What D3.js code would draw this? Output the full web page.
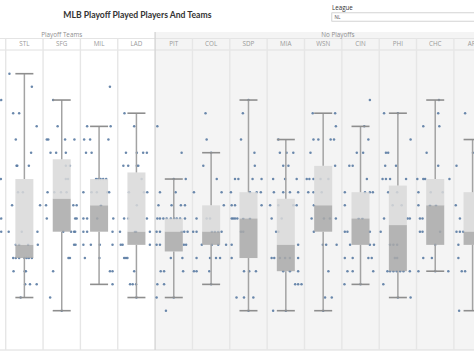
<!DOCTYPE html>
<html><head><meta charset="utf-8">
<script src="https://cdn.jsdelivr.net/npm/d3@7"></script>
<style>html,body{margin:0;padding:0;background:#fff;overflow:hidden}</style>
</head><body><svg id="c" width="474" height="355"></svg>
<script>
// ---------- DATA ----------
const title = "MLB Playoff Played Players And Teams";
const leagueLabel = "League";
const leagueValue = "NL";
const groups = ["Playoff Teams", "No Playoffs"];
const teams = ["ATL","STL","SFG","MIL","LAD","PIT","COL","SDP","MIA","WSN","CIN","PHI","CHC","ARI","NYM"];
const teamGroup = ["Playoff Teams","Playoff Teams","Playoff Teams","Playoff Teams","Playoff Teams",
  "No Playoffs","No Playoffs","No Playoffs","No Playoffs","No Playoffs","No Playoffs","No Playoffs","No Playoffs","No Playoffs","No Playoffs"];
// box plot statistics per team (value units)
const whiskerHigh = [17, 19, 17, 15, 16, 11, 13, 17, 14, 16, 15, 16, 17, 14, null];
const upperQuartile = [11, 11, 12.5, 11, 11.5, 8, 9, 10, 9.5, 12, 10, 10.5, 11, 10, null];
const medianValue = [8, 6, 9.5, 9, 7, 7, 7, 8, 6, 9, 8, 7.5, 9, 7, null];
const lowerQuartile = [6, 5, 7, 7, 6, 5.5, 6, 5, 4, 7, 6, 4, 6, 6, null];
const whiskerLow = [2, 2, 1, 3, 2, 2, 3, 1, 1, 1, 3, 2, 4, 1, null];
// individual players: [value, [jitter indices 0..1]]
const ATL = [[17,[.88]],[11,[.87]],[8,[.88]],[7,[.88]]];
const STL = [[19,[.10]],[18,[.70]],[16,[.20,.36]],[15,[.83]],[14,[.27]],[13,[.68]],[12,[.29,.31,.62]],[10,[.33,.46]],[9,[.17,.92]],[7,[.08,.43,.85]],[6,[.27,.36,.60,.86]],[5,[.20,.27,.36,.50,.56,.62,.70]],[4,[.21,.51,.54]],[3,[.52,.65,.83]],[2,[.40]]];
const SFG = [[17,[.27]],[15,[.39]],[14,[.10,.14,.59,.84]],[13,[.20,.35,.61]],[12,[.61,.72]],[11,[.61,.67]],[10,[.12,.30,.48,.63]],[9,[.08,.81,.90]],[8,[.10,.86,.90]],[7,[.54,.75,.83,.86]],[6,[.83,.87]],[5,[.68,.72]],[4,[.27]],[2,[.19]],[1,[.50]]];
const MIL = [[18,[.79]],[15,[.18,.81]],[14,[.10,.26,.75]],[13,[.15,.30]],[11,[.42,.48,.54,.61,.69]],[10,[.08,.30,.44,.72,.77]],[9,[.55]],[8,[.08,.18,.45,.88]],[7,[.08,.18,.86]],[6,[.08,.28,.52,.86]],[5,[.12,.51]],[4,[.79,.86]],[3,[.86]]];
const LAD = [[16,[.18]],[15,[.44]],[13,[.22,.51,.68,.78]],[12,[.15,.28,.51,.55]],[11,[.64]],[10,[.30,.70,.79]],[9,[.51]],[8,[.17,.28,.78]],[7,[.06,.46,.49,.86]],[6,[.08,.13,.86]],[5,[.17,.22,.26]],[4,[.44]],[3,[.33,.40,.49]],[2,[.50]]];
const PIT = [[15,[.06]],[13,[.71]],[11,[.50,.82]],[10,[.13,.55]],[9,[.09,.44,.69,.80]],[8,[.06,.13,.22,.31,.42,.51,.58,.67,.80]],[7,[.04,.13,.71,.78,.87]],[6,[.04,.13,.77,.83]],[5,[.42,.73]],[4,[.15,.24,.75]],[3,[.06,.24]],[2,[.04,.50]],[1,[.29]]];
const COL = [[16,[.35]],[14,[.38]],[13,[.50]],[12,[.29]],[11,[.65]],[10,[.04,.78]],[9,[.84]],[8,[.11,.38,.47]],[7,[.02,.11,.52,.60,.69,.78]],[6,[.25,.52,.69,.90]],[5,[.11,.47,.63,.74]],[4,[.04,.11,.45]],[3,[.50]]];
const SDP = [[17,[.50]],[16,[.35]],[14,[.30]],[13,[.66]],[12,[.67]],[11,[.14,.23,.61,.85]],[10,[.03,.54,.72,.83]],[9,[.05,.14,.85]],[8,[.05,.09,.14,.20,.36,.54]],[7,[.30,.36]],[6,[.05]],[5,[.05]],[4,[.38,.52,.70]],[2,[.18,.38,.63]],[1,[.50]]];
const MIA = [[14,[.30]],[13,[.34,.52,.70]],[12,[.43,.57]],[11,[.16,.48,.79]],[10,[.18,.43,.61,.83]],[9,[.08,.30,.70,.79]],[8,[.12,.39]],[7,[.24,.30]],[6,[.83]],[5,[.12,.19,.34,.48,.61,.83]],[4,[.43,.61,.83]],[3,[.75,.83,.92]],[1,[.16,.50]]];
const WSN = [[16,[.22,.82]],[15,[.84]],[14,[.24,.37,.70,.79]],[13,[.16]],[12,[.82]],[11,[.06,.13,.24,.43,.64]],[10,[.10,.24,.46]],[9,[.25]],[8,[.19,.52,.68,.84]],[7,[.25]],[6,[.49,.58,.86]],[4,[.64]],[2,[.55,.73]],[1,[.50]]];
const CIN = [[17,[.75]],[15,[.60]],[14,[.71]],[13,[.40,.57]],[12,[.20,.29]],[11,[.67]],[10,[.08,.62,.75,.83]],[9,[.08]],[8,[.45,.55]],[7,[.08,.15,.75]],[6,[.22,.75,.86]],[5,[.08,.29,.71,.80]],[4,[.15,.29,.84]],[3,[.07,.50]]];
const PHI = [[16,[.13,.50]],[14,[.84]],[13,[.18,.24]],[12,[.16,.45]],[11,[.09,.18,.29,.72]],[10,[.24,.48]],[9,[.36,.60]],[8,[.13,.76,.82]],[7,[.04]],[6,[.29,.38,.48]],[5,[.42,.48]],[4,[.22,.29,.38,.47,.56,.65,.82]],[3,[.11]],[2,[.50,.84]]];
const CHC = [[17,[.60]],[16,[.58]],[15,[.18,.61]],[13,[.27]],[12,[.58]],[11,[.02,.18,.23,.88]],[10,[.05,.38,.70]],[9,[.05,.36,.52]],[8,[.09,.16]],[7,[.09,.16,.63]],[6,[.50]],[5,[.18,.41]],[4,[.05,.50,.85]]];
const ARI = [[16,[.30]],[14,[.60]],[13,[.51]],[12,[.07]],[9,[.05]],[8,[.16]],[7,[.07,.16,.25]],[6,[.12]],[5,[.12]],[4,[.21,.30]],[1,[.14]]];
const NYM = [];
const playerSets = [ATL,STL,SFG,MIL,LAD,PIT,COL,SDP,MIA,WSN,CIN,PHI,CHC,ARI,NYM];

// ---------- LAYOUT ----------
const W = 474, H = 355;
const plotTop = 50, plotBottom = 350, groupTop = 32, teamTop = 38.5;
const colW = 37.35;
const svg = d3.select("#c");
const FONT = "'Open Sans', 'Noto Sans', sans-serif";

const x = d3.scaleBand().domain(teams).range([5.7 - colW, 5.7 + colW * (teams.length - 1)]).padding(0);
const jx = d3.scaleLinear().domain([0, 1]).range([0, x.bandwidth()]);
const y = d3.scaleLinear().domain([1, 19]).range([310.7, 73.7]);
const boxW = 18;

// group extents
const groupExtent = groups.map(g => {
  const ts = teams.filter((t, i) => teamGroup[i] === g);
  return [x(ts[0]), x(ts[ts.length - 1]) + x.bandwidth()];
});

// shaded background for "No Playoffs"
svg.append("rect").attr("x", groupExtent[1][0]).attr("y", groupTop)
  .attr("width", W - groupExtent[1][0] + 1).attr("height", plotBottom - groupTop)
  .attr("fill", "#f4f4f4");

// horizontal rules
[[teamTop, "#e4e4e4"], [plotTop, "#e0e0e0"], [plotBottom, "#dcdcdc"]].forEach(([yy, c]) => {
  svg.append("line").attr("x1", 0).attr("x2", W).attr("y1", yy).attr("y2", yy)
    .attr("stroke", c).attr("stroke-width", 1);
});

// column dividers
teams.forEach((t, i) => {
  if (i === 0) return;
  const isGroupEdge = teamGroup[i] !== teamGroup[i - 1];
  svg.append("line").attr("x1", x(t)).attr("x2", x(t))
    .attr("y1", isGroupEdge ? groupTop : teamTop).attr("y2", plotBottom)
    .attr("stroke", isGroupEdge ? "#d6d6d6" : "#e6e6e6").attr("stroke-width", 1.4);
});

// group headers
groups.forEach((g, gi) => {
  const e = groupExtent[gi];
  svg.append("text").attr("x", (e[0] + e[1]) / 2 - (gi === 1 ? 4 : 0)).attr("y", 37)
    .attr("text-anchor", "middle").attr("font-family", FONT).attr("font-size", 6.3)
    .attr("fill", "#8f8f8f").text(g);
});
// team headers (only those whose column is on screen)
teams.filter(t => x(t) + x.bandwidth() / 2 > 0 && x(t) < W).forEach(t => {
  svg.append("text").attr("x", x(t) + x.bandwidth() / 2).attr("y", 46.3)
    .attr("text-anchor", "middle").attr("font-family", FONT).attr("font-size", 6.3)
    .attr("fill", "#9a9a9a").text(t);
});

// players (dots)
const pts = [];
playerSets.forEach((set, i) => {
  set.forEach(([v, js]) => js.forEach(j => pts.push({ team: teams[i], v, j })));
});
const plot = svg.append("g");
plot.selectAll("circle.p").data(pts).join("circle").attr("class", "p")
  .attr("cx", d => x(d.team) + jx(d.j)).attr("cy", d => y(d.v))
  .attr("r", 1.25).attr("fill", "#5a7ba3").attr("opacity", 0.9);

// boxes
const boxes = teams.map((t, i) => ({
  team: t, hi: whiskerHigh[i], q3: upperQuartile[i], med: medianValue[i], q1: lowerQuartile[i], lo: whiskerLow[i]
})).filter(d => d.hi !== null);
const cx = d => x(d.team) + x.bandwidth() / 2;

const bg = svg.append("g");
bg.selectAll("rect.up").data(boxes).join("rect").attr("class", "up")
  .attr("x", d => cx(d) - boxW / 2).attr("width", boxW)
  .attr("y", d => y(d.q3)).attr("height", d => y(d.med) - y(d.q3))
  .attr("fill", "#d8d8d8").attr("opacity", 0.86);
bg.selectAll("rect.dn").data(boxes).join("rect").attr("class", "dn")
  .attr("x", d => cx(d) - boxW / 2).attr("width", boxW)
  .attr("y", d => y(d.med)).attr("height", d => y(d.q1) - y(d.med))
  .attr("fill", "#a9a9a9").attr("opacity", 0.86);
// whiskers
bg.selectAll("line.wu").data(boxes).join("line").attr("class", "wu")
  .attr("x1", cx).attr("x2", cx).attr("y1", d => y(d.hi)).attr("y2", d => y(d.q3))
  .attr("stroke", "#a3a3a3").attr("stroke-width", 1.5);
bg.selectAll("line.wl").data(boxes).join("line").attr("class", "wl")
  .attr("x1", cx).attr("x2", cx).attr("y1", d => y(d.q1)).attr("y2", d => y(d.lo))
  .attr("stroke", "#a3a3a3").attr("stroke-width", 1.5);
// caps
["hi", "lo"].forEach(k => {
  bg.selectAll("line.c" + k).data(boxes).join("line").attr("class", "c" + k)
    .attr("x1", d => cx(d) - boxW / 2).attr("x2", d => cx(d) + boxW / 2)
    .attr("y1", d => y(d[k])).attr("y2", d => y(d[k]))
    .attr("stroke", "#8e8e8e").attr("stroke-width", 1.6);
});

// title (fit to measured width in reference)
const tt = svg.append("text").attr("x", 63.3).attr("y", 17.6)
  .attr("font-family", "Lato, 'Open Sans', sans-serif").attr("font-weight", "bold")
  .attr("font-size", 10).attr("fill", "#333").text(title);
const tw = tt.node().getComputedTextLength();
tt.attr("font-size", 10 * 148.5 / tw);

// League filter
svg.append("text").attr("x", 332).attr("y", 10).attr("font-family", FONT)
  .attr("font-size", 6.2).attr("fill", "#333").text(leagueLabel);
svg.append("rect").attr("x", 331.8).attr("y", 12.8).attr("width", 150).attr("height", 8.4)
  .attr("fill", "#fff").attr("stroke", "#c9c9c9").attr("stroke-width", 0.8);
svg.append("text").attr("x", 334.5).attr("y", 19).attr("font-family", FONT)
  .attr("font-size", 4.6).attr("fill", "#555").text(leagueValue);
</script></body></html>
